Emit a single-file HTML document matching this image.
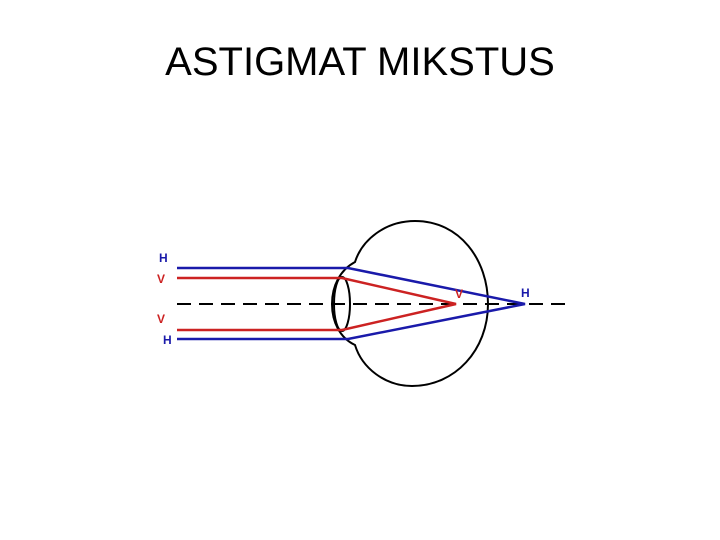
<!DOCTYPE html>
<html><head><style>
body{margin:0;width:720px;height:540px;background:#fff;overflow:hidden;font-family:"Liberation Sans",sans-serif}
h1{position:absolute;top:40px;left:0;width:720px;text-align:center;margin:0;font-weight:normal;font-size:40px;color:#000}
</style></head><body>
<h1>ASTIGMAT MIKSTUS</h1>
<svg width="720" height="540" style="position:absolute;left:0;top:0">
<path d="M355,262 C362,240 385,221 415,221 C460,221 488,260 488,304 C488,350 455,386 412,386 C385,386 362,368 355,345 C340,338 332,322 332,304 C332,286 340,270 355,262 Z" fill="none" stroke="#000" stroke-width="2"/>
<ellipse cx="342" cy="304" rx="8" ry="27" fill="none" stroke="#000" stroke-width="2"/>
<line x1="177" y1="304" x2="566" y2="304" stroke="#000" stroke-width="2" stroke-dasharray="14,8"/>
<g fill="none" stroke-width="2.5">
<polyline points="177,268 348,268 525,304 348,339 177,339" stroke="#1a1aaa"/>
<polyline points="177,278 342,278 456,304 342,330 177,330" stroke="#cc2222"/>
</g>
<g font-family="Liberation Sans,sans-serif" font-size="12" font-weight="bold">
<text x="159" y="262" fill="#1a1aaa">H</text>
<text x="157" y="283" fill="#cc2222">V</text>
<text x="157" y="323" fill="#cc2222">V</text>
<text x="163" y="344" fill="#1a1aaa">H</text>
<text x="455" y="298" fill="#cc2222">V</text>
<text x="521" y="297" fill="#1a1aaa">H</text>
</g>
</svg>
</body></html>
